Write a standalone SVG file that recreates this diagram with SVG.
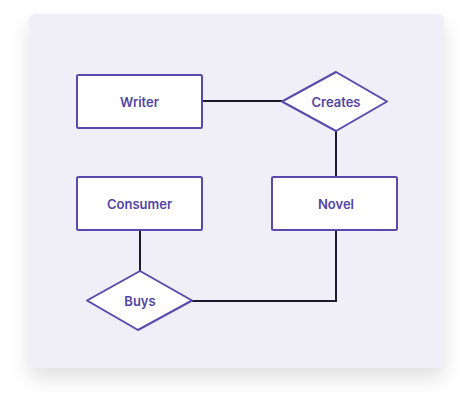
<svg xmlns="http://www.w3.org/2000/svg" width="474" height="412" viewBox="0 0 474 412">
<defs>
<filter id="sh" x="-20%" y="-20%" width="140%" height="150%">
<feDropShadow dx="0" dy="10" stdDeviation="10" flood-color="#000" flood-opacity="0.12"/>
</filter>
<style>
.n{fill:#fff;stroke:#5a49ad;stroke-width:2;stroke-linejoin:round}
.t{font-family:"Inter","Liberation Sans",sans-serif;font-weight:600;font-size:13px;fill:#5345a5;text-anchor:middle;dominant-baseline:central}
.c{fill:none;stroke:#1c1a2e;stroke-width:2}
</style>
</defs>
<rect width="474" height="412" fill="#fff"/>
<rect x="29" y="14" width="415" height="354" rx="6" fill="#f0eff8" filter="url(#sh)"/>
<g id="connectors">
<line class="c" x1="202" y1="101" x2="282" y2="101"/>
<line class="c" x1="336" y1="131" x2="336" y2="177"/>
<line class="c" x1="140" y1="230" x2="140" y2="271"/>
<polyline class="c" points="192,301 336,301 336,231"/>
</g>
<g id="writer"><rect class="n" x="77" y="75" width="125" height="53" rx="1.5"/><text class="t" x="139.5" y="101.5">Writer</text></g>
<g id="creates"><polygon class="n" points="336,72 387,101.5 336,131 282,101.5"/><text class="t" x="336" y="101.5">Creates</text></g>
<g id="consumer"><rect class="n" x="77" y="177" width="125" height="53" rx="1.5"/><text class="t" x="139.5" y="203.5">Consumer</text></g>
<g id="novel"><rect class="n" x="272" y="177" width="125" height="53" rx="1.5"/><text class="t" x="336" y="203.5">Novel</text></g>
<g id="buys"><polygon class="n" points="140,271 192,300.5 138,330 87,300.5"/><text class="t" x="140" y="300.5">Buys</text></g>
</svg>
